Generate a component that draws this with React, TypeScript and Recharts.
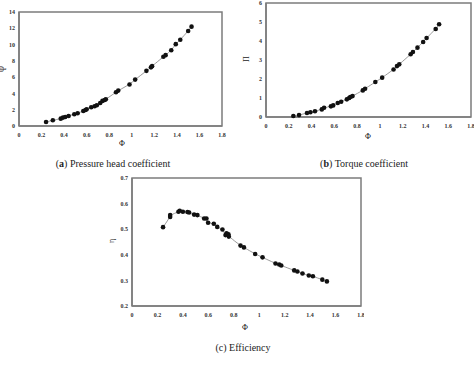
import { ScatterChart, Scatter, XAxis, YAxis, ReferenceArea } from "recharts";

// (a) pressure head coefficient
const phiA = [0.24, 0.3, 0.37, 0.39, 0.41, 0.44, 0.49, 0.52, 0.57, 0.59, 0.6, 0.64, 0.67, 0.69, 0.72, 0.74, 0.76, 0.77, 0.86, 0.88, 0.98, 1.03, 1.13, 1.17, 1.18, 1.28, 1.3, 1.35, 1.39, 1.43, 1.5, 1.53];
const psiA = [0.49, 0.7, 0.9, 1.03, 1.1, 1.23, 1.44, 1.56, 1.85, 1.97, 2.05, 2.3, 2.42, 2.55, 2.83, 3.08, 3.2, 3.28, 4.15, 4.35, 5.1, 5.7, 6.77, 7.2, 7.35, 8.5, 8.7, 9.3, 10.05, 10.6, 11.66, 12.2];

// (b) torque coefficient
const phiB = [0.24, 0.29, 0.36, 0.39, 0.43, 0.49, 0.51, 0.57, 0.59, 0.63, 0.66, 0.71, 0.73, 0.74, 0.76, 0.85, 0.87, 0.96, 1.02, 1.12, 1.15, 1.17, 1.27, 1.29, 1.33, 1.38, 1.41, 1.49, 1.52];
const piB = [0.05, 0.1, 0.21, 0.25, 0.3, 0.4, 0.49, 0.56, 0.61, 0.74, 0.8, 0.93, 1.0, 1.05, 1.1, 1.4, 1.49, 1.84, 2.07, 2.5, 2.68, 2.77, 3.3, 3.42, 3.65, 3.95, 4.16, 4.63, 4.88];

// (c) efficiency
const phiC = [0.244, 0.3, 0.3, 0.365, 0.375, 0.4, 0.436, 0.449, 0.488, 0.514, 0.567, 0.585, 0.598, 0.643, 0.67, 0.711, 0.735, 0.743, 0.758, 0.761, 0.853, 0.88, 0.968, 1.026, 1.128, 1.157, 1.173, 1.275, 1.3, 1.34, 1.39, 1.422, 1.496, 1.532];
const etaC = [0.508, 0.548, 0.555, 0.568, 0.572, 0.568, 0.567, 0.565, 0.557, 0.555, 0.542, 0.542, 0.525, 0.521, 0.509, 0.499, 0.477, 0.484, 0.48, 0.471, 0.436, 0.429, 0.403, 0.39, 0.366, 0.362, 0.358, 0.339, 0.335, 0.327, 0.319, 0.316, 0.303, 0.296];

const phiTicks = [0, 0.2, 0.4, 0.6, 0.8, 1, 1.2, 1.4, 1.6, 1.8];
const psiTicks = [0, 2, 4, 6, 8, 10, 12, 14];
const piTicks = [0, 1, 2, 3, 4, 5, 6];
const etaTicks = [0.2, 0.3, 0.4, 0.5, 0.6, 0.7];

const serif = "'Liberation Serif', 'DejaVu Serif', serif";
const frameColor = "#7c7c7c";
const tickStyle = { fontFamily: serif, fontSize: 6, fontWeight: "bold" as const, fill: "#333" };
const fmt = (v: number) => String(Math.round(v * 10) / 10);

function Dot(props: any) {
  return <circle cx={props.cx} cy={props.cy} r={2.3} fill="#111" />;
}

interface PanelProps {
  left: number;
  top: number;
  width: number;
  height: number;
  margin: { top: number; right: number; left: number; bottom: number };
  yWidth: number;
  xs: number[];
  ys: number[];
  yTicks: number[];
}

function Panel({ left, top, width, height, margin, yWidth, xs, ys, yTicks }: PanelProps) {
  const data = xs.map((x, i) => ({ x, y: ys[i] }));
  const yMin = yTicks[0];
  const yMax = yTicks[yTicks.length - 1];
  return (
    <div style={{ position: "absolute", left, top }}>
      <ScatterChart width={width} height={height} margin={margin}>
        <XAxis
          type="number"
          dataKey="x"
          domain={[0, 1.8]}
          ticks={phiTicks}
          tickFormatter={fmt}
          interval={0}
          tick={tickStyle}
          tickLine={false}
          axisLine={{ stroke: frameColor, strokeWidth: 1.5 }}
          tickSize={0}
          tickMargin={7}
          height={24}
        />
        <YAxis
          type="number"
          dataKey="y"
          domain={[yMin, yMax]}
          ticks={yTicks}
          tickFormatter={fmt}
          interval={0}
          tick={tickStyle}
          tickLine={false}
          axisLine={{ stroke: frameColor, strokeWidth: 1.5 }}
          tickSize={0}
          tickMargin={4}
          width={yWidth}
        />
        {/* plot frame */}
        <ReferenceArea x1={0} x2={1.8} y1={yMin} y2={yMax} ifOverflow="visible" fill="none" stroke={frameColor} strokeWidth={1.5} />
        <Scatter
          data={data}
          line={{ stroke: "#8f8f8f", strokeWidth: 0.9 }}
          lineJointType="basis"
          shape={<Dot />}
          isAnimationActive={false}
        />
      </ScatterChart>
    </div>
  );
}

function Lbl({ x, y, text, rotate }: { x: number; y: number; text: string; rotate?: boolean }) {
  return (
    <div
      style={{
        position: "absolute",
        left: x,
        top: y,
        transform: `translate(-50%, -50%)${rotate ? " rotate(-90deg)" : ""}`,
        fontFamily: serif,
        fontSize: 8,
        lineHeight: 1,
        color: "#222",
        whiteSpace: "nowrap",
      }}
    >
      {text}
    </div>
  );
}

function Caption({ x, y, tag, text, boldTag }: { x: number; y: number; tag: string; text: string; boldTag: boolean }) {
  return (
    <div
      style={{
        position: "absolute",
        left: x,
        top: y,
        transform: "translate(-50%, -50%)",
        fontFamily: serif,
        fontSize: 10,
        lineHeight: 1,
        color: "#222",
        whiteSpace: "nowrap",
      }}
    >
      (<span style={{ fontWeight: boldTag ? "bold" : "normal" }}>{tag}</span>) {text}
    </div>
  );
}

export default function App() {
  return (
    <div style={{ position: "absolute", left: 0, top: 0, width: 474, height: 366, background: "#fff", overflow: "hidden" }}>
      <Panel left={0} top={0} width={230} height={150} margin={{ top: 12, right: 8, left: 0, bottom: 0 }} yWidth={19} xs={phiA} ys={psiA} yTicks={psiTicks} />
      <Panel left={246} top={0} width={228} height={141} margin={{ top: 3, right: 3, left: 0, bottom: 0 }} yWidth={20} xs={phiB} ys={piB} yTicks={piTicks} />
      <Panel left={108} top={170} width={256} height={160} margin={{ top: 8, right: 3, left: 0, bottom: 0 }} yWidth={24} xs={phiC} ys={etaC} yTicks={etaTicks} />

      <Lbl x={4} y={69} text="Ψ" rotate />
      <Lbl x={122} y={144} text="Φ" />
      <Lbl x={247} y={59} text="Π" rotate />
      <Lbl x={368} y={137} text="Φ" />
      <Lbl x={112} y={241} text="η" rotate />
      <Lbl x={245} y={328} text="Φ" />

      <Caption x={113} y={164} tag="a" text="Pressure head coefficient" boldTag />
      <Caption x={364} y={164} tag="b" text="Torque coefficient" boldTag />
      <Caption x={243} y={348} tag="c" text="Efficiency" boldTag={false} />
    </div>
  );
}
